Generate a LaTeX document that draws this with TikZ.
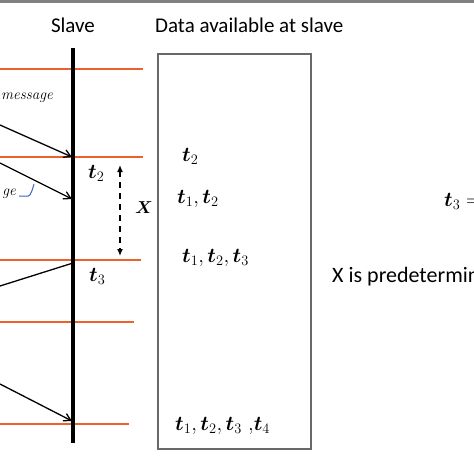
\documentclass[tikz,border=0pt]{standalone}
\usepackage{fontspec}
\usepackage{amsmath}
\newfontfamily\calfont{Carlito}
\usetikzlibrary{positioning,arrows.meta}
\definecolor{syncorange}{RGB}{237,98,42}
\definecolor{framegray}{RGB}{105,105,105}
\definecolor{leaderblue}{RGB}{60,100,190}
\newcommand\tstamp[1]{\boldsymbol{t}_{#1}}

\begin{document}
\begin{tikzpicture}[x=1pt,y=-1pt,
  syncline/.style={draw=syncorange,line width=2.6pt},
  slaveline/.style={draw=black,line width=4pt},
  msgarrow/.style={-{Straight Barb[length=7pt,width=8pt]},line width=1.3pt},
  headtext/.style={font=\calfont\fontsize{21}{25}\selectfont,inner sep=0pt,anchor=base west},
  timetext/.style={font=\fontsize{21}{25}\selectfont,inner sep=0pt,anchor=base west},
  msgtext/.style={font=\itshape\fontsize{15}{18}\selectfont,inner sep=0pt,anchor=base east}]

\useasboundingbox (0,0) rectangle (474,474);
\clip (0,0) rectangle (474,474);
\fill[gray] (0,0) rectangle (474,2.5);

% sync instants
\foreach \ypos/\xend in {69/143,157/143,260/141,322/134,424/129}
  \draw[syncline] (0,\ypos) -- (\xend,\ypos);

% slave time line
\coordinate (slavetop) at (73,48);
\coordinate (slavebot) at (73,443);
\draw[slaveline] (slavetop) -- (slavebot);

\node (slave) [headtext,anchor=base] at (73,32) {Slave};
\node (datahead) [headtext] at (155,32) {Data available at slave};

% messages between master and slave
\coordinate (synca) at (0,125);
\coordinate (syncb) at (72,157);
\coordinate (followa) at (0,163);
\coordinate (followb) at (72,199);
\coordinate (reqa) at (73,263);
\coordinate (reqb) at (0,286);
\coordinate (respa) at (0,384);
\coordinate (respb) at (72,421);
\draw[msgarrow] (synca) -- (syncb);
\draw[msgarrow] (followa) -- (followb);
\draw[line width=1.3pt] (reqa) -- (reqb);
\draw[msgarrow] (respa) -- (respb);

\node (syncmsg) [msgtext] at (53,99) {message};
\node (followmsg) [msgtext] at (16,195) {ge};
\coordinate (leadend) at (34,184);
\draw[leaderblue,line width=1pt] ([xshift=3pt,yshift=-3pt]followmsg.east) -- ++(9,0)
  .. controls +(3,0) and +(-1,3) .. (leadend);

% time stamps at the slave
\node (tb) [timetext] at (88,178) {$\tstamp{2}$};
\node (tc) [timetext] at (89,281) {$\tstamp{3}$};

% predetermined gap
\coordinate (xtop) at (120,165);
\coordinate (xbot) at (120,256);
\draw[{Latex[length=7pt,width=6pt]}-{Latex[length=7pt,width=6pt]},dash pattern=on 6pt off 5pt,line width=1.5pt] (xtop) -- (xbot);
\node (gap) [timetext,font=\fontsize{17}{20}\selectfont] at (135,213) {$\boldsymbol{X}$};

% data at slave
\node (databox) [draw=framegray,line width=1.3pt,minimum width=153pt,minimum height=395pt,inner sep=0pt] at (234.5,251.5) {};
\node (dataa) [timetext] at (182,161) {$\tstamp{2}$};
\node (datab) [timetext] at (177,203) {$\tstamp{1}, \tstamp{2}$};
\node (datac) [timetext] at (182,262) {$\tstamp{1}, \tstamp{2}, \tstamp{3}$};
\node (datad) [timetext] at (175,430) {$\tstamp{1}, \tstamp{2}, \tstamp{3}\ {,}\tstamp{4}$};

\node (tcformula) [timetext] at (444,206) {$\tstamp{3} =$};
\node (gapnote) [headtext,font=\calfont\fontsize{22}{26}\selectfont] at (332,282) {X is predetermined};
\end{tikzpicture}
\end{document}
